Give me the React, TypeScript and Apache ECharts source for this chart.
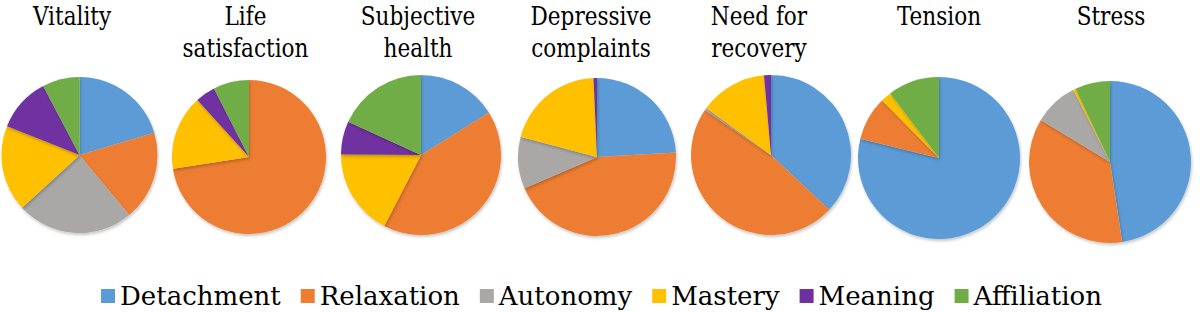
import React, { useEffect, useRef } from "react";
import * as echarts from "echarts";

const categories = ["Detachment", "Relaxation", "Autonomy", "Mastery", "Meaning", "Affiliation"];
const pieTitles = ["Vitality", "Life\nsatisfaction", "Subjective\nhealth", "Depressive\ncomplaints", "Need for\nrecovery", "Tension", "Stress"];

const vitality = [20.4, 18.6, 24.2, 17.8, 11.3, 7.7];
const lifeSatisfaction = [0, 72.5, 0, 15.7, 4.2, 7.5];
const subjectiveHealth = [16.1, 41.5, 0, 17.5, 6.7, 18.2];
const depressiveComplaints = [24.1, 44.4, 10.6, 20.2, 0.7, 0];
const needForRecovery = [37.0, 47.5, 0.5, 13.6, 1.4, 0];
const tension = [78.8, 8.8, 0, 2.1, 0, 10.3];
const stress = [47.6, 36.1, 8.8, 0.5, 0, 7.0];

const pieValues = [vitality, lifeSatisfaction, subjectiveHealth, depressiveComplaints, needForRecovery, tension, stress];

const colors = ["#5B9BD5", "#ED7D31", "#A9A8A7", "#FFC000", "#7030A0", "#70AD47"];

// layout only (pixel positions)
const pieLayout = [
  { cx: 79.5, cy: 155, r: 78 },
  { cx: 249, cy: 157, r: 77 },
  { cx: 421, cy: 155, r: 80 },
  { cx: 597, cy: 157, r: 79 },
  { cx: 771, cy: 155, r: 80 },
  { cx: 939, cy: 158, r: 81 },
  { cx: 1110, cy: 162, r: 81 },
];
const titleX = [72, 245.5, 418, 591, 759, 939, 1111];

const SERIF = "DejaVu Serif";

export default function App() {
  const ref = useRef<HTMLDivElement>(null);
  useEffect(() => {
    if (!ref.current) return;
    const chart = echarts.init(ref.current, undefined, { renderer: "svg" });
    const series = pieValues.map((vals, i) => ({
      type: "pie",
      name: pieTitles[i].replace("\n", " "),
      center: [pieLayout[i].cx, pieLayout[i].cy],
      radius: pieLayout[i].r,
      startAngle: 90,
      clockwise: true,
      silent: true,
      label: { show: false },
      labelLine: { show: false },
      emphasis: { disabled: true },
      itemStyle: {
        borderWidth: 0,
        shadowBlur: 3,
        shadowOffsetX: 1,
        shadowOffsetY: 2,
        shadowColor: "rgba(0,0,0,0.22)",
      },
      data: categories.map((c, k) => ({ name: c, value: vals[k] })),
    }));
    const graphic = pieTitles.map((t, i) => ({
      type: "text",
      x: titleX[i],
      y: 0,
      scaleX: 0.83,
      style: {
        text: t,
        fontFamily: SERIF,
        fontSize: 26,
        fill: "#000",
        textAlign: "center",
        textVerticalAlign: "top",
        lineHeight: 32,
      },
    }));
    chart.setOption({
      animation: false,
      color: colors,
      legend: {
        data: categories,
        left: 96,
        top: 276,
        icon: "rect",
        itemWidth: 14,
        itemHeight: 14,
        itemGap: 20,
        selectedMode: false,
        textStyle: { fontFamily: SERIF, fontSize: 26, lineHeight: 30, color: "#000" },
      },
      graphic,
      series,
    });
    return () => chart.dispose();
  }, []);
  return (
    <div
      ref={ref}
      style={{ position: "fixed", left: 0, top: 0, width: 1200, height: 312, background: "#fff" }}
    />
  );
}
